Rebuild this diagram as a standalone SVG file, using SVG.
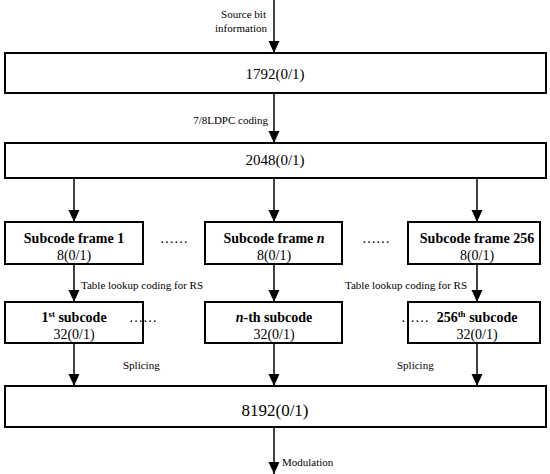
<svg xmlns="http://www.w3.org/2000/svg" width="550" height="474" viewBox="0 0 550 474">
<style>
.box{fill:#fff;stroke:#000;stroke-width:2}
.ln{stroke:#000;stroke-width:1.5;fill:none;marker-end:url(#ah)}
</style>
<defs>
<marker id="ah" markerUnits="userSpaceOnUse" markerWidth="12" markerHeight="12" viewBox="0 0 12 12" refX="12" refY="6" orient="auto">
<path d="M0,0.5 L12,6 L0,11.5 z" fill="#000"/>
</marker>
</defs>
<rect width="550" height="474" fill="#fff"/>
<g id="connectors">
<line class="ln" x1="274" y1="0" x2="274" y2="53"/>
<line class="ln" x1="274" y1="93" x2="274" y2="143"/>
<line class="ln" x1="74" y1="178" x2="74" y2="222"/>
<line class="ln" x1="274" y1="178" x2="274" y2="222"/>
<line class="ln" x1="477" y1="178" x2="477" y2="222"/>
<line class="ln" x1="74" y1="264" x2="74" y2="302"/>
<line class="ln" x1="274" y1="264" x2="274" y2="302"/>
<line class="ln" x1="477" y1="264" x2="477" y2="302"/>
<line class="ln" x1="74" y1="343" x2="74" y2="386"/>
<line class="ln" x1="274" y1="343" x2="274" y2="386"/>
<line class="ln" x1="477" y1="343" x2="477" y2="386"/>
<line class="ln" x1="274" y1="427" x2="274" y2="474"/>
<text font-family="Liberation Serif, serif" font-size="11" x="266" y="18" text-anchor="end">Source bit</text>
<text font-family="Liberation Serif, serif" font-size="11" x="267" y="32" text-anchor="end">information</text>
<text font-family="Liberation Serif, serif" font-size="11" x="268" y="124" text-anchor="end">7/8LDPC coding</text>
<text font-family="Liberation Serif, serif" font-size="11" x="81" y="289">Table lookup coding for RS</text>
<text font-family="Liberation Serif, serif" font-size="11" x="345" y="289">Table lookup coding for RS</text>
<text font-family="Liberation Serif, serif" font-size="11" x="123" y="369">Splicing</text>
<text font-family="Liberation Serif, serif" font-size="11" x="397" y="369">Splicing</text>
<text font-family="Liberation Serif, serif" font-size="11" x="282" y="466">Modulation</text>
</g>
<g id="n1792">
<rect class="box" x="5" y="53" width="541" height="40"/>
<text font-family="Liberation Serif, serif" text-anchor="middle" x="275" y="79" font-size="15">1792(0/1)</text>
</g>
<g id="n2048">
<rect class="box" x="5" y="143" width="541" height="35"/>
<text font-family="Liberation Serif, serif" text-anchor="middle" x="275" y="165" font-size="15">2048(0/1)</text>
</g>
<g id="frame1">
<rect class="box" x="5" y="222" width="138" height="42"/>
<text font-family="Liberation Serif, serif" text-anchor="middle" font-size="14" font-weight="bold" x="74" y="243">Subcode frame 1</text>
<text font-family="Liberation Serif, serif" text-anchor="middle" font-size="14" x="74" y="260">8(0/1)</text>
</g>
<g id="framen">
<rect class="box" x="205" y="222" width="137" height="42"/>
<text font-family="Liberation Serif, serif" text-anchor="middle" font-size="14" font-weight="bold" x="274" y="243">Subcode frame <tspan font-style="italic">n</tspan></text>
<text font-family="Liberation Serif, serif" text-anchor="middle" font-size="14" x="274" y="260">8(0/1)</text>
</g>
<g id="frame256">
<rect class="box" x="408" y="222" width="132" height="42"/>
<text font-family="Liberation Serif, serif" text-anchor="middle" font-size="14" font-weight="bold" x="477" y="243">Subcode frame 256</text>
<text font-family="Liberation Serif, serif" text-anchor="middle" font-size="14" x="477" y="260">8(0/1)</text>
</g>
<g id="sub1">
<rect class="box" x="5" y="302" width="138" height="41"/>
<text font-family="Liberation Serif, serif" text-anchor="middle" font-size="14" font-weight="bold" x="74" y="322">1<tspan font-size="9" dy="-5">st</tspan><tspan dy="5"> subcode</tspan></text>
<text font-family="Liberation Serif, serif" text-anchor="middle" font-size="14" x="74" y="339">32(0/1)</text>
</g>
<g id="subn">
<rect class="box" x="205" y="302" width="137" height="41"/>
<text font-family="Liberation Serif, serif" text-anchor="middle" font-size="14" font-weight="bold" x="274" y="322"><tspan font-style="italic">n</tspan>-th subcode</text>
<text font-family="Liberation Serif, serif" text-anchor="middle" font-size="14" x="274" y="339">32(0/1)</text>
</g>
<g id="sub256">
<rect class="box" x="408" y="302" width="132" height="41"/>
<text font-family="Liberation Serif, serif" text-anchor="middle" font-size="14" font-weight="bold" x="477" y="322">256<tspan font-size="9" dy="-5">th</tspan><tspan dy="5"> subcode</tspan></text>
<text font-family="Liberation Serif, serif" text-anchor="middle" font-size="14" x="477" y="339">32(0/1)</text>
</g>
<g id="dots">
<text font-family="Liberation Serif, serif" text-anchor="middle" font-size="14" x="174" y="243">……</text>
<text font-family="Liberation Serif, serif" text-anchor="middle" font-size="14" x="376" y="243">……</text>
<text font-family="Liberation Serif, serif" text-anchor="middle" font-size="14" x="143" y="322">……</text>
<text font-family="Liberation Serif, serif" text-anchor="middle" font-size="14" x="415" y="322">……</text>
</g>
<g id="n8192">
<rect class="box" x="5" y="386" width="541" height="41"/>
<text font-family="Liberation Serif, serif" text-anchor="middle" x="275" y="416" font-size="17">8192(0/1)</text>
</g>
</svg>
